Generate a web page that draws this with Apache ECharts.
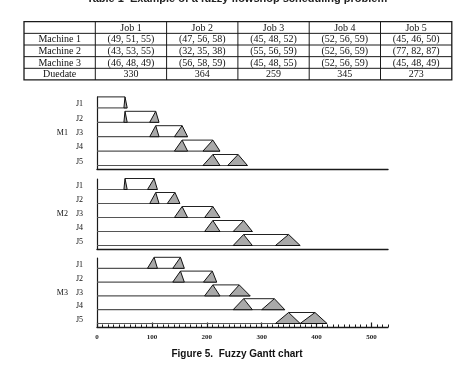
<!DOCTYPE html>
<html><head><meta charset="utf-8">
<script src="https://cdn.jsdelivr.net/npm/echarts@6/dist/echarts.min.js"></script>
<style>html,body{margin:0;padding:0;background:#fff}#c{width:474px;height:370px}</style>
</head><body><div id="c"></div>
<script>
// ---------- data ----------
const tableTitle = 'Table 1  Example of a fuzzy flowshop scheduling problem';
const figureCaption = 'Figure 5.  Fuzzy Gantt chart';
const jobNames = ['Job 1', 'Job 2', 'Job 3', 'Job 4', 'Job 5'];
const machineNames = ['Machine 1', 'Machine 2', 'Machine 3'];
const timesM1 = [[49, 51, 55], [47, 56, 58], [45, 48, 52], [52, 56, 59], [45, 46, 50]];
const timesM2 = [[43, 53, 55], [32, 35, 38], [55, 56, 59], [52, 56, 59], [77, 82, 87]];
const timesM3 = [[46, 48, 49], [56, 58, 59], [45, 48, 55], [52, 56, 59], [45, 48, 49]];
const dueDates = [330, 364, 259, 345, 273];
const dueLabel = 'Duedate';

const jobCategories = ['J1', 'J2', 'J3', 'J4', 'J5'];
const panelNames = ['M1', 'M2', 'M3'];
// fuzzy start / end times (left, peak, right) per job on each machine
const m1Start = [[0, 0, 0], [49, 51, 55], [96, 107, 113], [141, 155, 165], [193, 211, 224]];
const m1End   = [[49, 51, 55], [96, 107, 113], [141, 155, 165], [193, 211, 224], [238, 257, 274]];
const m2Start = [[49, 51, 55], [96, 107, 113], [141, 155, 165], [196, 211, 224], [248, 267, 283]];
const m2End   = [[92, 104, 110], [128, 142, 151], [196, 211, 224], [248, 267, 283], [325, 349, 370]];
const m3Start = [[92, 104, 110], [138, 152, 159], [196, 211, 224], [248, 267, 283], [325, 349, 370]];
const m3End   = [[138, 152, 159], [194, 210, 218], [241, 259, 279], [300, 323, 342], [370, 397, 419]];
const xTickLabels = [0, 100, 200, 300, 400, 500];
const xMin = 0, xMax = 530, minorStep = 10;

// ---------- table (graphic) ----------
const serif = '"Liberation Serif", "DejaVu Serif", serif';
const sans = '"Liberation Sans", Arial, sans-serif';
const tL = 24, tT = 21.7, colW = 71.3, rowH = 11.65, nCols = 6, nRows = 5;
const ink = '#1a1a1a';
const graphics = [];
graphics.push({ type: 'text', left: 'center', top: -7, z: 10,
  style: { text: tableTitle, font: 'bold 11px ' + sans, fill: '#222' } });
graphics.push({ type: 'rect', shape: { x: tL, y: tT, width: colW * nCols, height: rowH * nRows },
  style: { fill: 'none', stroke: ink, lineWidth: 1.3 } });
for (let r = 1; r < nRows; r++) {
  graphics.push({ type: 'line', shape: { x1: tL, y1: tT + r * rowH, x2: tL + colW * nCols, y2: tT + r * rowH },
    style: { stroke: ink, lineWidth: 1 } });
}
for (let c = 1; c < nCols; c++) {
  graphics.push({ type: 'line', shape: { x1: tL + c * colW, y1: tT, x2: tL + c * colW, y2: tT + rowH * nRows },
    style: { stroke: ink, lineWidth: 1 } });
}
function cell(r, c, txt) {
  graphics.push({ type: 'text', x: tL + (c + 0.5) * colW, y: tT + (r + 0.5) * rowH + 0.5,
    style: { text: String(txt), font: '10px ' + serif, fill: '#111', align: 'center', verticalAlign: 'middle' } });
}
const fmt = t => '(' + t.join(', ') + ')';
jobNames.forEach((j, i) => cell(0, i + 1, j));
[timesM1, timesM2, timesM3].forEach((arr, m) => {
  cell(m + 1, 0, machineNames[m]);
  arr.forEach((t, i) => cell(m + 1, i + 1, fmt(t)));
});
cell(4, 0, dueLabel);
dueDates.forEach((d, i) => cell(4, i + 1, d));
graphics.push({ type: 'text', x: 237, y: 354,
  style: { text: figureCaption, font: 'bold 10px ' + sans, fill: '#111', align: 'center', verticalAlign: 'middle' } });

// ---------- gantt ----------
const panels = [
  { top: 97, height: 72, start: m1Start, end: m1End },
  { top: 179, height: 70, start: m2Start, end: m2End },
  { top: 258, height: 69, start: m3Start, end: m3End }
];
const grids = panels.map(p => ({ left: 97, width: 291, top: p.top, height: p.height }));
const xAxes = [], yAxes = [], series = [];
panels.forEach((p, g) => {
  const last = g === panels.length - 1;
  xAxes.push({
    type: 'value', gridIndex: g, min: xMin, max: xMax, position: 'bottom',
    axisLine: { show: true, lineStyle: { color: ink, width: 1.4 } },
    axisTick: last ? { show: true, inside: true, length: 4.5, customValues: xTickLabels, lineStyle: { color: ink, width: 1.2 } } : { show: false },
    axisLabel: last ? { show: true, customValues: xTickLabels, margin: 7, fontFamily: serif, fontSize: 7, fontWeight: 'bold', color: '#222' } : { show: false },
    splitLine: { show: false }
  });
  yAxes.push({
    type: 'category', gridIndex: g, data: jobCategories, inverse: true,
    axisLine: { show: true, lineStyle: { color: ink, width: 1.2 } },
    axisTick: { show: false }, splitLine: { show: false },
    axisLabel: {
      margin: 14, fontFamily: serif, fontSize: 8, color: '#111',
      formatter: (v, i) => i === 2 ? '{m|' + panelNames[g] + '}' + v : v,
      rich: { m: { fontFamily: serif, fontSize: 8, color: '#111', padding: [0, 8, 0, 0] } }
    }
  });
  series.push({
    type: 'custom', xAxisIndex: g, yAxisIndex: g, clip: false,
    encode: { x: [1, 2, 3, 4, 5, 6], y: 0 },
    data: p.start.map((s, i) => [i].concat(s, p.end[i])),
    renderItem: (params, api) => {
      const idx = api.value(0);
      const c0 = api.coord([0, idx]);
      const band = api.size([0, 1])[1];
      const base = c0[1] + band / 2 - 3.5;
      const top = base - 11;
      const X = v => api.coord([v, idx])[0];
      const sL = X(api.value(1)), sM = X(api.value(2)), sR = X(api.value(3));
      const eL = X(api.value(4)), eM = X(api.value(5)), eR = X(api.value(6));
      const lineStyle = { stroke: '#222', lineWidth: 1 };
      const triStyle = { fill: '#a9a9a9', stroke: '#111', lineWidth: 1 };
      const ch = [
        { type: 'line', shape: { x1: c0[0], y1: base, x2: eR, y2: base }, style: { stroke: '#555', lineWidth: 1.2 } },
        { type: 'line', shape: { x1: sM, y1: top, x2: eM, y2: top }, style: lineStyle }
      ];
      if (sR - sL > 0.1) ch.push({ type: 'polygon', shape: { points: [[sL, base], [sM, top], [sR, base]] }, style: triStyle });
      ch.push({ type: 'polygon', shape: { points: [[eL, base], [eM, top], [eR, base]] }, style: triStyle });
      return { type: 'group', children: ch };
    }
  });
});
// minor ticks on the bottom axis
xAxes.push({
  type: 'value', gridIndex: 2, min: xMin, max: xMax, interval: minorStep, position: 'bottom',
  axisLine: { show: false }, axisLabel: { show: false }, splitLine: { show: false },
  axisTick: { show: true, inside: true, length: 2.5, lineStyle: { color: ink } }
});

const chart = echarts.init(document.getElementById('c'), null, { renderer: 'canvas' });
chart.setOption({
  backgroundColor: '#fff',
  animation: false,
  grid: grids,
  xAxis: xAxes,
  yAxis: yAxes,
  series: series,
  graphic: graphics
});
</script>
</body></html>
